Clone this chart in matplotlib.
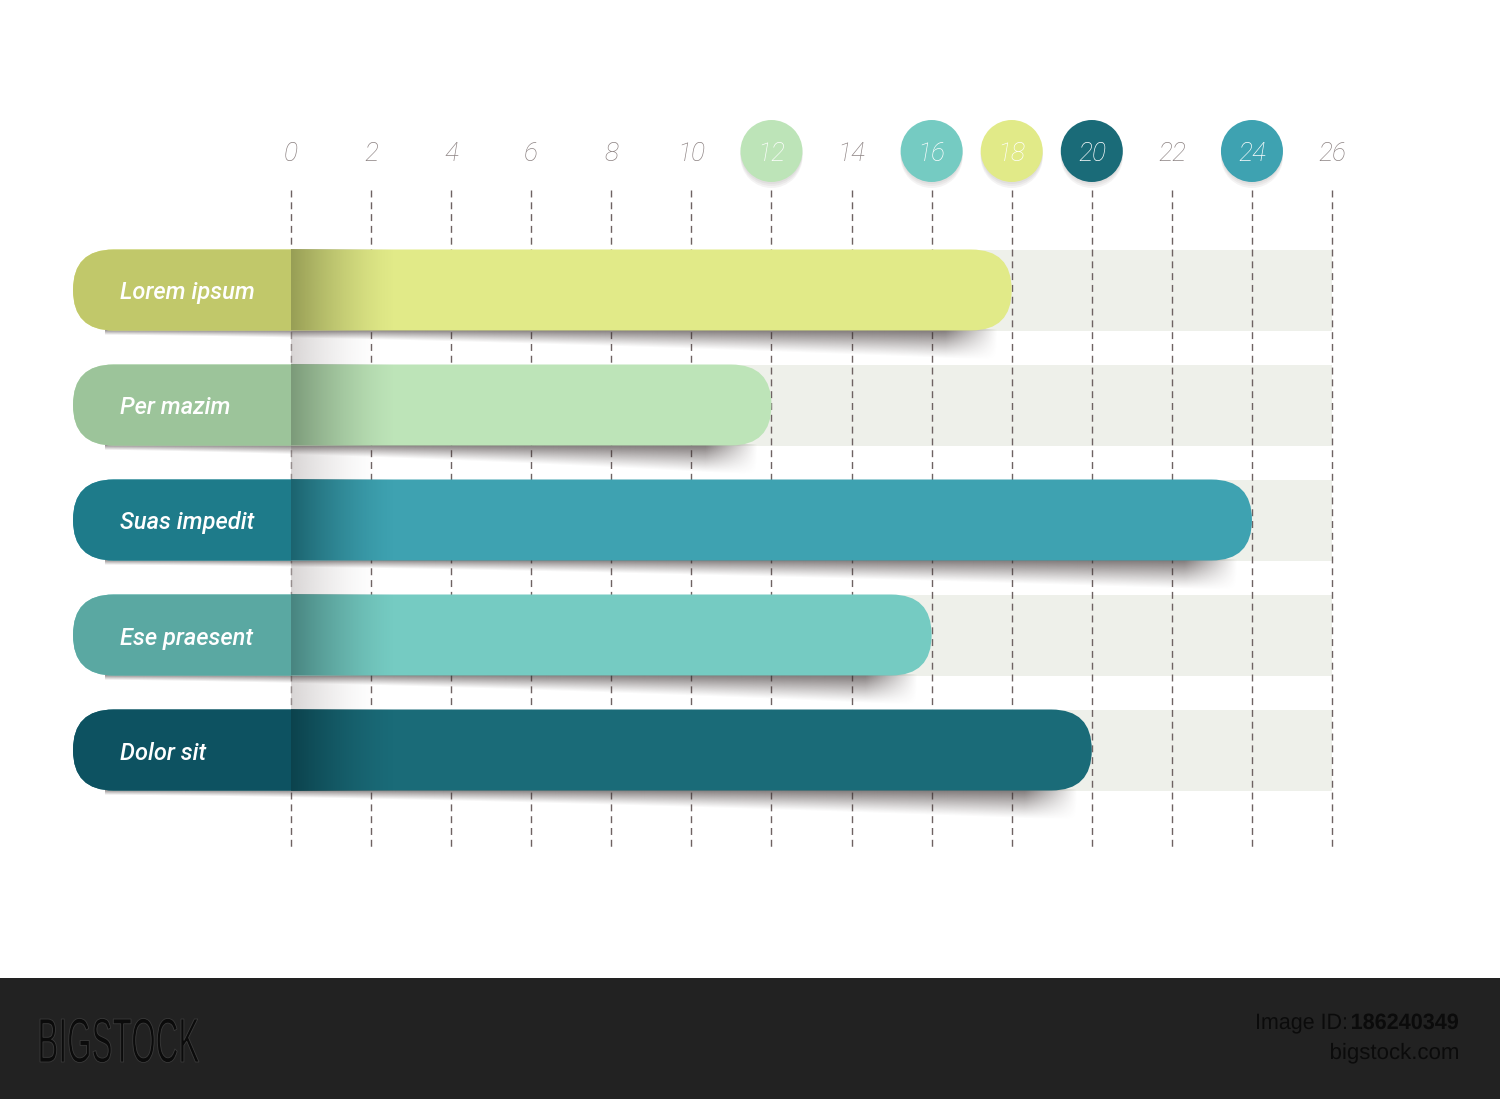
import numpy as np
import matplotlib
matplotlib.use("Agg")
import matplotlib.pyplot as plt
from matplotlib.patches import FancyBboxPatch, Ellipse, Rectangle, PathPatch
from matplotlib.colors import to_rgb
from matplotlib.textpath import TextPath
from matplotlib.font_manager import FontProperties
from matplotlib.transforms import Affine2D

# data
labels = ["Lorem ipsum", "Per mazim", "Suas impedit", "Ese praesent", "Dolor sit"]
values = [18, 12, 24, 16, 20]
ticks = list(range(0, 27, 2))
x_max = 26

main_colors = ["#e1ea88", "#bde4b8", "#3ea2b1", "#75cbc2", "#1a6b78"]
label_colors = ["#c1c86a", "#9cc49a", "#1e7b8a", "#5aa8a2", "#0d5261"]

# layout (pixels of the 1500x1099 picture)
PX_X = 40.04       # pixels per x unit
PX_Y = 115.0       # pixels per row
X0_PX = 291        # pixel of x = 0
ROW0_PX = 290      # pixel of first row centre
PLOT_H = 978       # height of the white area
aspect = PX_X / PX_Y

fig = plt.figure(figsize=(15, 10.99), dpi=100)
fig.patch.set_facecolor("white")
ax = fig.add_axes([0, 121 / 1099, 1, PLOT_H / 1099])
ax.axis("off")

rows = np.arange(len(labels))
h = 81 / PX_Y
x_left = (73 - X0_PX) / PX_X
tick_y = (151 - ROW0_PX) / PX_Y

# grey tracks behind the bars
ax.barh(rows, x_max, left=0, height=h, color="#eef0ea", zorder=0.5)

# dashed grid
ax.vlines(ticks, (190 - ROW0_PX) / PX_Y, (848 - ROW0_PX) / PX_Y,
          colors="#6e6262", linestyles=(0, (5, 3.5)), lw=1.0, zorder=1)

# fold shadow between rows at x = 0
fold = np.ones((2, 200, 4))
fold[..., :3] = to_rgb("#b8b2b2")
fold[..., 3] = 0.55 * (1 - np.linspace(0, 1, 200)) ** 1.6
ax.imshow(fold, extent=[0, 2.3, rows[-1] - h / 2, rows[0] + h / 2],
          aspect="auto", interpolation="bilinear", zorder=1.5)


def curl_shadow(y, v):
    """Wedge shaped shadow under a bar, deeper towards its right end."""
    x0, x1 = x_left + 0.8, v - 0.2
    depth = 34
    xs = np.linspace(x0, x1, 500)
    dy = np.arange(depth) + 0.5
    u = (xs - x_left) / (v - x_left)
    thick = 6 + 26 * u ** 1.5
    hfade = np.clip((v - 0.35 - xs) / 1.3, 0, 1)
    a = np.clip(1 - dy[:, None] / thick[None, :], 0, 1) ** 1.1 * hfade[None, :]
    img = np.ones((depth, len(xs), 4))
    img[..., :3] = to_rgb("#3a3030")
    img[..., 3] = 0.68 * a
    top = y + h / 2 - 1 / PX_Y
    ax.imshow(img, extent=[x0, x1, top + depth / PX_Y, top], aspect="auto",
              interpolation="bilinear", zorder=2)


rs = h / aspect / 2 * 0.999
for y, v, lab, mc, lc in zip(rows, values, labels, main_colors, label_colors):
    curl_shadow(y, v)
    bar = FancyBboxPatch((x_left, y - h / 2), v - x_left, h,
                         boxstyle=f"round,pad=0,rounding_size={rs}",
                         mutation_aspect=aspect, fc=mc, ec="none", zorder=3)
    ax.add_patch(bar)
    tab = FancyBboxPatch((x_left, y - h / 2), v - x_left, h,
                         boxstyle=f"round,pad=0,rounding_size={rs}",
                         mutation_aspect=aspect, fc=lc, ec="none", zorder=4)
    ax.add_patch(tab)
    clip = Rectangle((x_left - 1, y - h), -x_left + 1, 2 * h, transform=ax.transData)
    tab.set_clip_path(clip)
    # gradient where the bar leaves the tab
    g = np.ones((2, 200, 4))
    g[..., :3] = np.array(to_rgb(lc)) * 0.72
    g[..., 3] = 0.85 * (1 - np.linspace(0, 1, 200)) ** 1.4
    ax.imshow(g, extent=[0, 2.6, y + h / 2, y - h / 2], aspect="auto",
              interpolation="bilinear", zorder=5)
    ax.text(x_left + 1.17, y + 3 / PX_Y, lab, color="white", fontsize=17,
            family="Roboto", style="italic", weight="medium",
            va="center", ha="left", zorder=6)

# value markers on the scale
ew, eh = 62 / PX_X, 62 / PX_Y
for v, mc in zip(values, main_colors):
    for k in range(3):
        ax.add_patch(Ellipse((v, tick_y + (2 + 2 * k) / PX_Y), ew, eh, fc="#6a6060",
                             ec="none", alpha=0.07, zorder=2))
    ax.add_patch(Ellipse((v, tick_y), ew, eh, fc=mc, ec="none", zorder=3))

for t in ticks:
    col = "white" if t in values else "#8c8282"
    ax.text(t, tick_y + 3 / PX_Y, str(t), color=col, fontsize=19, family="Roboto",
            style="italic", weight="light", ha="center", va="center", zorder=6)

ax.set_xlim(-X0_PX / PX_X, (1500 - X0_PX) / PX_X)
ax.set_ylim((PLOT_H - ROW0_PX) / PX_Y, -ROW0_PX / PX_Y)

# bottom banner, drawn in pixel units
bx = fig.add_axes([0, 0, 1, 121 / 1099])
bx.set_xlim(0, 1500)
bx.set_ylim(1099, 978)
bx.axis("off")
bx.add_patch(Rectangle((0, 978), 1500, 121, fc="#222222", ec="none"))


def narrow(s, left, right, baseline, cap, weight="normal", ec="none"):
    """Text squeezed into [left, right] with the given cap height (pixels)."""
    fp = FontProperties(family="Liberation Sans", weight=weight)
    size = cap / 0.72
    tp = TextPath((0, 0), s, size=size, prop=fp)
    ext = tp.get_extents()
    sx = (right - left) / ext.width
    tr = Affine2D().translate(-ext.x0, 0).scale(sx, -1).translate(left, baseline)
    bx.add_patch(PathPatch(tr.transform_path(tp), fc="#0b0b0b", ec=ec, lw=0.6))


narrow("BIGSTOCK", 40, 199, 1062, 45, ec="#3a3a3a")
narrow("Image ID:", 1257, 1346, 1029, 16)
narrow("186240349", 1352, 1458, 1029, 16, weight="bold")
narrow("bigstock.com", 1331, 1458, 1059, 16)

fig.savefig("out.png", dpi=100)
